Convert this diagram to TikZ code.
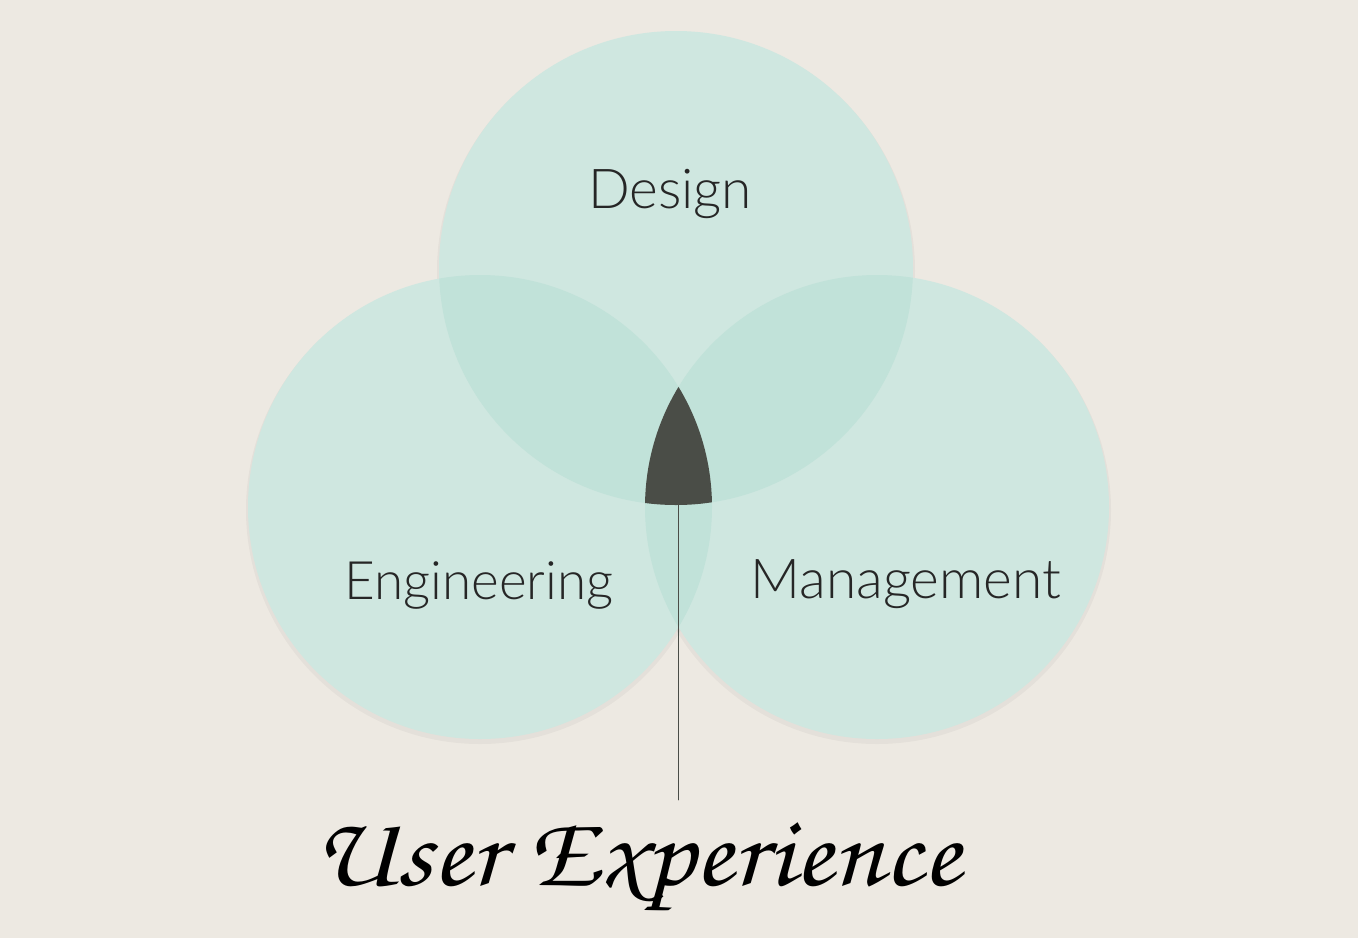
\documentclass[tikz,border=0pt]{standalone}
\usepackage[T1]{fontenc}
\usepackage{fontspec}
\newfontfamily\thinfont{Lato Light}
\usetikzlibrary{positioning}
\definecolor{paper}{HTML}{EDE9E2}
\definecolor{mint}{HTML}{CFE7E0}
\definecolor{mintdark}{HTML}{C1E2D9}
\definecolor{corecol}{HTML}{4A4D47}
\tikzset{
  field/.style={font=\thinfont\fontsize{53}{60}\selectfont,text=black!85},
  script/.style={font=\fontencoding{T1}\fontfamily{pzc}\fontseries{mb}\fontshape{it}\fontsize{102}{110}\selectfont,xscale=1.1}
}
\begin{document}
\begin{tikzpicture}[line cap=round,line join=round,x=1pt,y=-1pt]
\fill[paper] (0,0) rectangle (1358,938);
\coordinate (d) at (676,268);
\coordinate (e) at (480,507);
\coordinate (m) at (877,507);
% soft shadows
\foreach \c/\r in {d/239,e/234,m/234}
\fill[black,opacity=0.035] ([yshift=-3pt]\c) circle (\r pt);
% circles
\fill[mint] (d) circle (237pt);
\fill[mint] (e) circle (232pt);
\fill[mint] (m) circle (232pt);
% overlaps
\begin{scope}
\clip (d) circle (237pt);
\fill[mintdark] (e) circle (232pt);
\fill[mintdark] (m) circle (232pt);
\end{scope}
\begin{scope}
\clip (e) circle (232pt);
\fill[mintdark] (m) circle (232pt);
\end{scope}
\begin{scope}
\clip (d) circle (237pt);
\clip (e) circle (232pt);
\fill[corecol] (m) circle (232pt);
\end{scope}
% labels
\node[field,font=\thinfont\fontsize{55}{60}\selectfont] (design) at (670,194) {Design};
\node[field] (eng) at (479,585) {Engineering};
\node[field,font=\thinfont\fontsize{55}{60}\selectfont] (mgmt) at (906,584) {Management};
\node[script] (ux) at (637,870) {User Experience};
\coordinate (tip) at (678,465);
\coordinate (foot) at (678,800);
\draw[corecol,line width=0.8pt] (tip) -- (foot);
\end{tikzpicture}
\end{document}
